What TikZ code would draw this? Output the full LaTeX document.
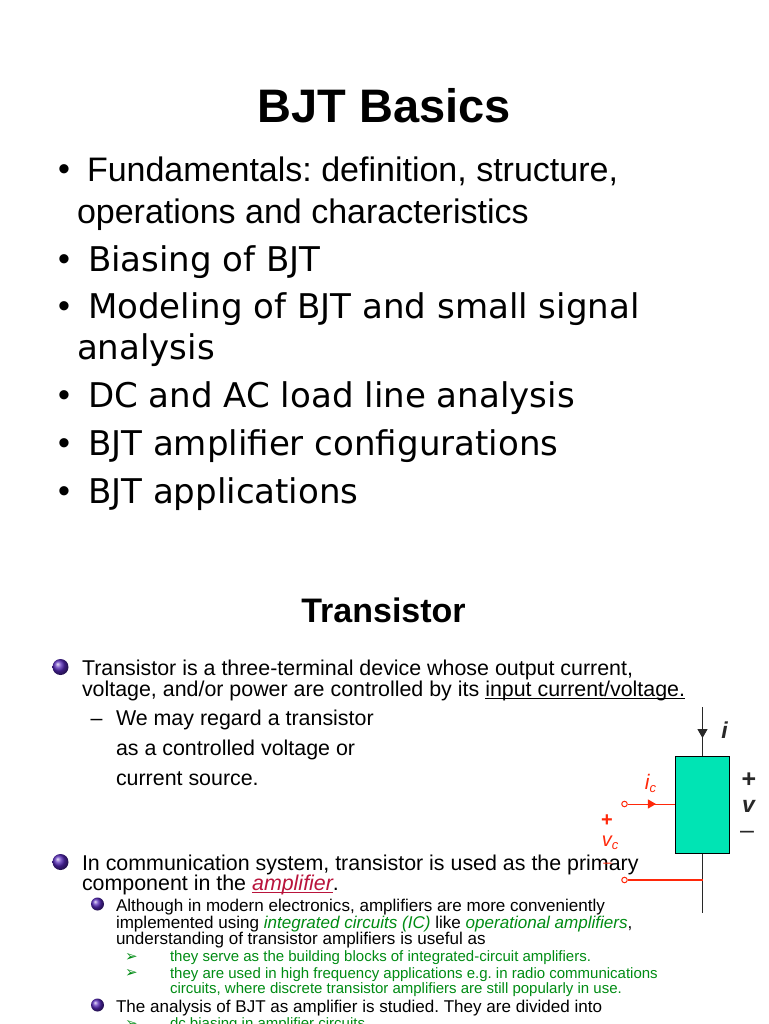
\documentclass[tikz,border=0pt]{standalone}
\usepackage{fontspec}
\setmainfont{Liberation Sans}
\newfontfamily\djfont{DejaVu Sans}
\usetikzlibrary{arrows.meta,positioning,decorations.markings}
\definecolor{grn}{RGB}{0,140,20}
\definecolor{amp}{RGB}{185,20,60}
\definecolor{teal2}{RGB}{0,228,180}
\definecolor{wire}{RGB}{40,40,40}
\definecolor{redw}{RGB}{255,40,10}
\definecolor{ballc}{RGB}{85,40,185}
\newsavebox{\ulbox}
\newcommand{\myul}[1]{\sbox{\ulbox}{#1}\rlap{\rule[-3.4pt]{\wd\ulbox}{1pt}}\usebox{\ulbox}}
\frenchspacing
\tikzset{
 x=1pt,y=-1pt,
 txt/.style={anchor=base west,inner sep=0pt,outer sep=0pt},
 title/.style={anchor=base,inner sep=0pt,font=\fontsize{47}{47}\bfseries\selectfont},
 subtitle/.style={anchor=base,inner sep=0pt,font=\fontsize{34}{34}\bfseries\selectfont},
 big/.style={txt,font=\fontsize{34}{34}\selectfont},
 bigd/.style={txt,font=\djfont\fontsize{34.05}{34}\selectfont},
 lone/.style={txt,font=\fontsize{21.4}{22}\selectfont},
 ltwo/.style={txt,font=\fontsize{17.05}{18}\selectfont},
 lthree/.style={txt,font=\fontsize{15}{15}\selectfont,text=grn},
 ball/.style={circle,inner sep=0pt,minimum size=#1,ball color=ballc},
 ab/.style={txt,font=\djfont\fontsize{15}{15}\selectfont,text=grn},
 lab/.style={anchor=base,inner sep=0pt,text=wire},
 labr/.style={anchor=base,inner sep=0pt,text=redw},
 term/.style={circle,draw=redw,line width=1pt,fill=white,inner sep=0pt,minimum size=5.5pt},
 wireb/.style={draw=wire,line width=1pt},
 wirer/.style={draw=redw,line width=1pt},
 wirerh/.style={draw=redw,line width=1.6pt},
 midarrow/.style 2 args={postaction=decorate,decoration={markings,mark=at position #1 with {\arrow{Triangle[length=#2pt,width=#2pt+1pt]}}}},
}
\begin{document}
\begin{tikzpicture}
\useasboundingbox (0,0) rectangle (768,1024);
\clip (0,0) rectangle (768,1024);
\fill[white] (0,0) rectangle (768,1024);
\node[title] (t1) at (384,123) {BJT Basics};
\node[big] (p1) at (58,181) {•};
\node[big] (b1) at (87,182) {Fundamentals: definition, structure,};
\node[big] (b1a) at (77,223) {operations and characteristics};
\node[big] (p2) at (58,270) {•};
\node[bigd] (b2) at (88,271) {Biasing of BJT};
\node[big] (p3) at (58,317) {•};
\node[bigd] (b3) at (88,318) {Modeling of BJT and small signal};
\node[bigd] (b3a) at (77,359) {analysis};
\node[big] (p4) at (58,406) {•};
\node[bigd] (b4) at (88,407) {DC and AC load line analysis};
\node[big] (p5) at (58,454) {•};
\node[bigd] (b5) at (88,455) {BJT amplifier configurations};
\node[big] (p6) at (58,502) {•};
\node[bigd] (b6) at (88,503) {BJT applications};
\node[subtitle] (t2) at (383.5,622) {Transistor};
\node[ball=16pt] (s1) at (60.5,667) {};
\node[lone] (l1) at (82,675) {Transistor is a three-terminal device whose output current,};
\node[lone] (l1a) at (82,696) {voltage, and/or power are controlled by its \myul{input current/voltage.}};
\node[lone] (d1) at (90.5,725) {–};
\node[lone] (l2) at (116,725) {We may regard a transistor};
\node[lone] (l2a) at (116,755) {as a controlled voltage or};
\node[lone] (l2b) at (116,785) {current source.};
\node[ball=16pt] (s2) at (60.5,862) {};
\node[lone] (l3) at (82,870) {In communication system, transistor is used as the primary};
\node[lone] (l3a) at (82,890) {component in the {\color{amp}\myul{\itshape amplifier}}.};
\node[ball=13pt] (s3) at (97.5,904) {};
\node[ltwo] (m1) at (116,911) {Although in modern electronics, amplifiers are more conveniently};
\node[ltwo] (m1a) at (116,928) {implemented using {\color{grn}\itshape integrated circuits (IC)} like {\color{grn}\itshape operational amplifiers},};
\node[ltwo] (m1b) at (116,944) {understanding of transistor amplifiers is useful as};
\node[ab] (a1) at (125,961) {➢};
\node[lthree] (n1) at (170,961) {they serve as the building blocks of integrated-circuit amplifiers.};
\node[ab] (a2) at (125,977) {➢};
\node[lthree] (n2) at (170,978) {they are used in high frequency applications e.g. in radio communications};
\node[lthree] (n2a) at (170,993) {circuits, where discrete transistor amplifiers are still popularly in use.};
\node[ball=13pt] (s4) at (97.5,1005) {};
\node[ltwo] (m2) at (116,1012) {The analysis of BJT as amplifier is studied. They are divided into};
\node[ab] (a3) at (125,1028) {➢};
\node[lthree] (n3) at (170,1028) {dc biasing in amplifier circuits};
% device
\node[draw=black,line width=1pt,fill=teal2,minimum width=54.5pt,minimum height=97pt,inner sep=0pt] (dev) at (702.5,804.5) {};
\coordinate (top) at (702.5,707);
\coordinate (bot) at (702.5,913);
\coordinate (j) at (702.5,880);
\node[term] (c1) at (624.5,804) {};
\node[term] (c2) at (624.5,880) {};
\path[wireb,midarrow={0.64}{9}] (top) -- (dev.north);
\draw[wireb] (dev.south) -- (bot);
\path[wirer,midarrow={0.6}{8}] (c1) -- (c1-|dev.west);
\draw[wirerh] (c2) -- (j);
\node[lab,font=\fontsize{23}{23}\bfseries\itshape\selectfont] (li) at (724.5,738) {i};
\node[lab,font=\fontsize{25}{25}\bfseries\selectfont] (lp) at (749,787) {+};
\node[lab,font=\fontsize{23}{23}\bfseries\itshape\selectfont] (lv) at (748.5,812) {v};
\node[lab,font=\fontsize{25}{25}\selectfont] (lm) at (747,838) {–};
\node[labr,font=\fontsize{21}{21}\itshape\selectfont] (lic) at (650.5,789) {i\raisebox{-3pt}{\fontsize{13}{13}\selectfont c}};
\node[labr,font=\fontsize{20}{20}\bfseries\selectfont] (lpr) at (607,826) {+};
\node[labr,font=\fontsize{20}{20}\itshape\selectfont] (lvc) at (610,846) {v\raisebox{-3pt}{\fontsize{13}{13}\selectfont c}};
\node[labr,font=\fontsize{15}{15}\selectfont] (lmr) at (607.5,867) {–};
\end{tikzpicture}
\end{document}
